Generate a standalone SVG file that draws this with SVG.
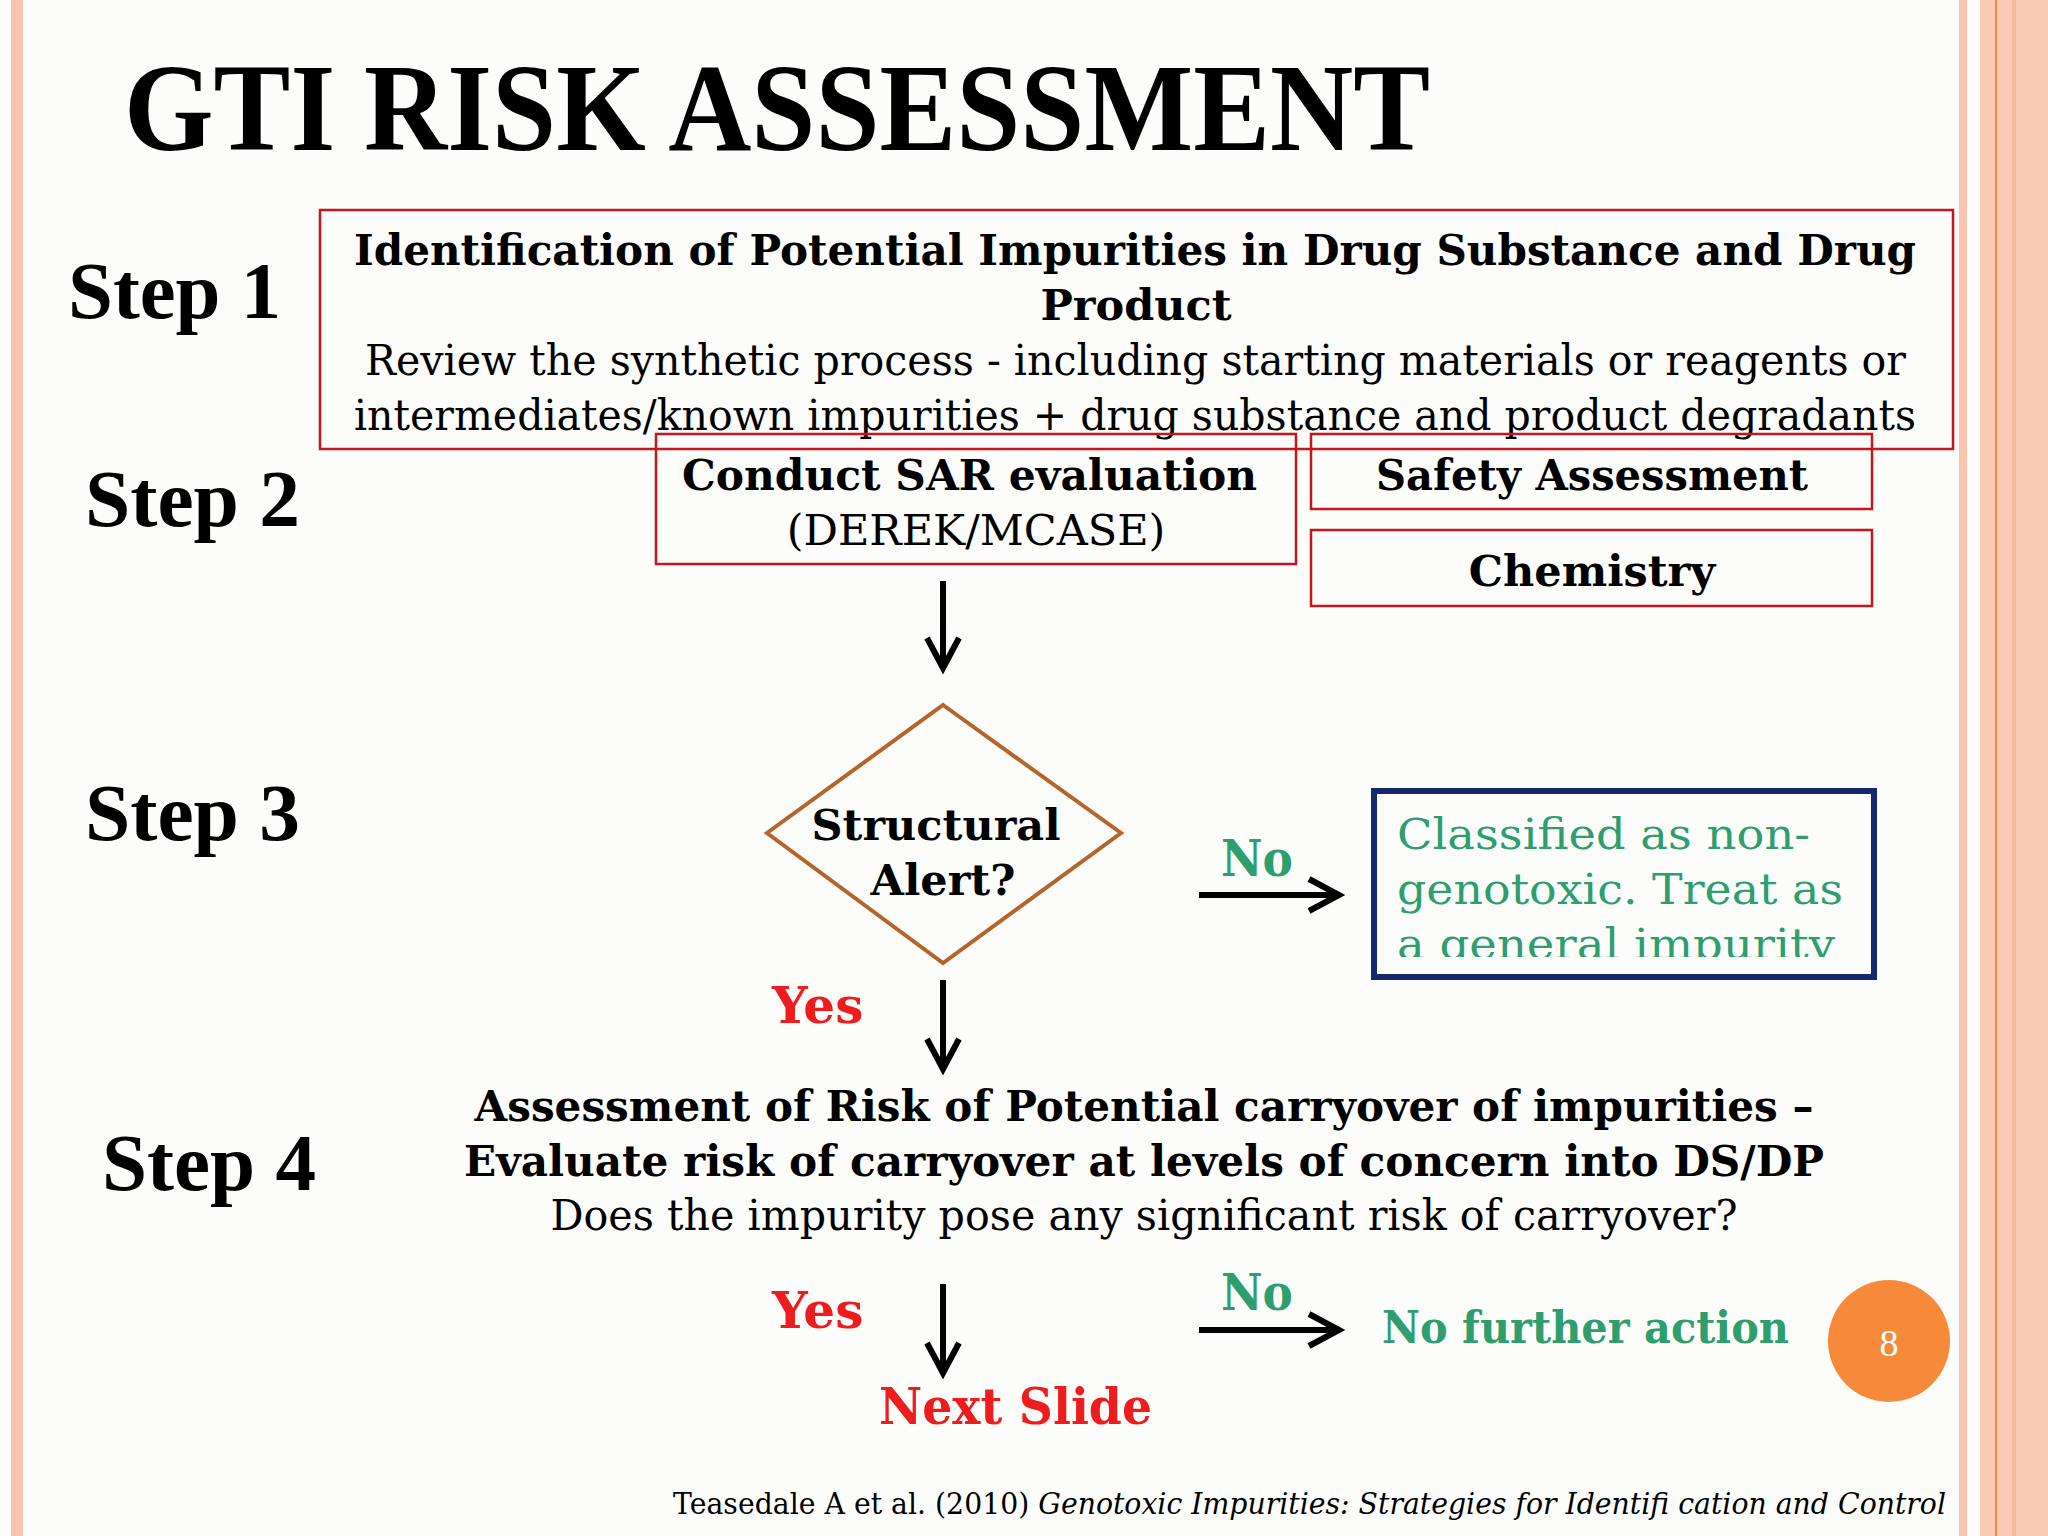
<svg xmlns="http://www.w3.org/2000/svg" width="2048" height="1536" viewBox="0 0 2048 1536">
<style>
.s{font-family:"DejaVu Serif","Liberation Serif",serif}
.l{font-family:"Liberation Serif","DejaVu Serif",serif}
.b{font-weight:bold}
.step{font-size:80px;font-weight:bold}
.t{font-size:43px}
.g{fill:#2e9e6e}
.r{fill:#ee1c1c}
.box{fill:none;stroke:#c4161c;stroke-width:2.5}
.ar{fill:none;stroke:#000;stroke-width:6}
</style>
<defs>
<clipPath id="cb"><rect x="1380" y="795" width="490" height="162"/></clipPath>
</defs>
<rect width="2048" height="1536" fill="#fcfdfb"/>
<rect x="11" y="0" width="12" height="1536" fill="#f9c4ae"/>
<rect x="1959" y="0" width="8" height="1536" fill="#f9c4ae"/>
<rect x="1980" y="0" width="68" height="1536" fill="#f9cbb4"/>
<rect x="1995" y="0" width="2" height="1536" fill="#f08a50"/>
<rect x="2012" y="0" width="4" height="1536" fill="#f6b89c"/>
<text class="l b" x="124" y="150" font-size="124" textLength="1306" lengthAdjust="spacingAndGlyphs">GTI RISK ASSESSMENT</text>
<g id="steps" class="l">
<text class="step" x="68" y="318" textLength="213" lengthAdjust="spacingAndGlyphs">Step 1</text>
<text class="step" x="85" y="526" textLength="215" lengthAdjust="spacingAndGlyphs">Step 2</text>
<text class="step" x="85" y="840" textLength="215" lengthAdjust="spacingAndGlyphs">Step 3</text>
<text class="step" x="102" y="1190" textLength="214" lengthAdjust="spacingAndGlyphs">Step 4</text>
</g>
<g id="n1" class="s t">
<rect class="box" x="320" y="210" width="1633" height="239"/>
<text class="b" x="354" y="265" textLength="1562" lengthAdjust="spacingAndGlyphs">Identification of Potential Impurities in Drug Substance and Drug</text>
<text class="b" x="1136" y="320" text-anchor="middle">Product</text>
<text x="365" y="375" textLength="1541" lengthAdjust="spacingAndGlyphs">Review the synthetic process - including starting materials or reagents or</text>
<text x="354" y="430" textLength="1562" lengthAdjust="spacingAndGlyphs">intermediates/known impurities + drug substance and product degradants</text>
</g>
<g id="n2" class="s t">
<rect class="box" x="656" y="434" width="640" height="130"/>
<text class="b" x="682" y="490" textLength="575" lengthAdjust="spacingAndGlyphs">Conduct SAR evaluation</text>
<text x="976" y="545" text-anchor="middle">(DEREK/MCASE)</text>
</g>
<g id="n3" class="s t">
<rect class="box" x="1311" y="434" width="561" height="75"/>
<text class="b" x="1376" y="490" textLength="432" lengthAdjust="spacingAndGlyphs">Safety Assessment</text>
</g>
<g id="n4" class="s t">
<rect class="box" x="1311" y="530" width="561" height="76"/>
<text class="b" x="1592" y="586" text-anchor="middle">Chemistry</text>
</g>
<g id="n5" class="s t">
<polygon points="943,705 1121,833 943,963 767,833" fill="none" stroke="#b5652b" stroke-width="4"/>
<text class="b" x="936" y="840" text-anchor="middle">Structural</text>
<text class="b" x="943" y="895" text-anchor="middle">Alert?</text>
</g>
<g id="n6" class="s t">
<rect x="1374" y="791" width="500" height="186" fill="none" stroke="#14286b" stroke-width="6"/>
<g clip-path="url(#cb)" class="g">
<text x="1397" y="849" textLength="413" lengthAdjust="spacingAndGlyphs">Classified as non-</text>
<text x="1397" y="904" textLength="446" lengthAdjust="spacingAndGlyphs">genotoxic. Treat as</text>
<text x="1397" y="959" textLength="438" lengthAdjust="spacingAndGlyphs">a general impurity</text>
</g>
</g>
<g id="n7" class="s t">
<text class="b" x="1144" y="1121" text-anchor="middle" textLength="1339" lengthAdjust="spacingAndGlyphs">Assessment of Risk of Potential carryover of impurities –</text>
<text class="b" x="1144" y="1176" text-anchor="middle" textLength="1360" lengthAdjust="spacingAndGlyphs">Evaluate risk of carryover at levels of concern into DS/DP</text>
<text x="1144" y="1230" text-anchor="middle" textLength="1187" lengthAdjust="spacingAndGlyphs">Does the impurity pose any significant risk of carryover?</text>
</g>
<g id="n8" class="s">
<text class="b g" x="1382" y="1343" font-size="44" textLength="407" lengthAdjust="spacingAndGlyphs">No further action</text>
</g>
<g id="n9" class="s">
<text class="b r" x="879" y="1424" font-size="50" textLength="273" lengthAdjust="spacingAndGlyphs">Next Slide</text>
</g>
<g id="labels" class="s b" font-size="50">
<text class="g" x="1221" y="876" textLength="72" lengthAdjust="spacingAndGlyphs">No</text>
<text class="r" x="772" y="1023">Yes</text>
<text class="r" x="772" y="1328">Yes</text>
<text class="g" x="1221" y="1310" textLength="72" lengthAdjust="spacingAndGlyphs">No</text>
</g>
<g id="connectors">
<path class="ar" d="M943 581V668M927 638L943 668L959 638"/>
<path class="ar" d="M943 980V1069M927 1039L943 1069L959 1039"/>
<path class="ar" d="M943 1284V1373M927 1343L943 1373L959 1343"/>
<path class="ar" d="M1199 895H1339M1309 879L1339 895L1309 911"/>
<path class="ar" d="M1199 1330H1339M1309 1314L1339 1330L1309 1346"/>
</g>
<g id="page">
<circle cx="1889" cy="1341" r="61" fill="#f7893b"/>
<text x="1889" y="1356" font-family="Liberation Serif,serif" font-size="38" fill="#fff" text-anchor="middle">8</text>
</g>
<text class="s" x="673" y="1514" font-size="29" textLength="1273" lengthAdjust="spacingAndGlyphs">Teasedale A et al. (2010) <tspan font-style="italic">Genotoxic Impurities: Strategies for Identifi cation and Control</tspan></text>
</svg>
